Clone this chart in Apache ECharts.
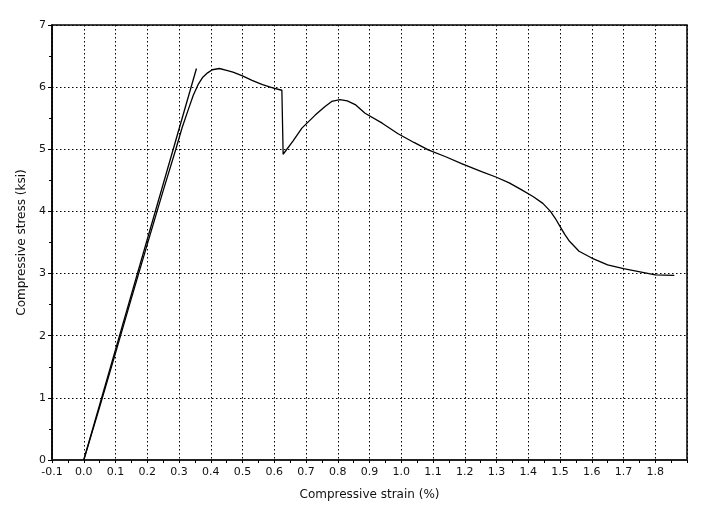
<!DOCTYPE html>
<html>
<head>
<meta charset="utf-8">
<script src="https://cdn.jsdelivr.net/npm/echarts@6/dist/echarts.min.js"></script>
<style>html,body{margin:0;padding:0;background:#fff}#c{width:725px;height:523px}</style>
</head>
<body>
<div id="c"></div>
<script>
const strainMain = [0, 0.05, 0.1, 0.15, 0.2, 0.25, 0.29, 0.31, 0.33, 0.345, 0.36, 0.375, 0.39, 0.405, 0.427, 0.45, 0.47, 0.5, 0.53, 0.563, 0.595, 0.624, 0.628, 0.66, 0.687, 0.729, 0.76, 0.781, 0.807, 0.83, 0.855, 0.886, 0.94, 0.99, 1.04, 1.085, 1.14, 1.19, 1.253, 1.30, 1.34, 1.378, 1.415, 1.446, 1.47, 1.485, 1.50, 1.515, 1.53, 1.56, 1.6, 1.65, 1.70, 1.76, 1.80, 1.86];
const stressMain = [0, 0.85, 1.72, 2.6, 3.47, 4.33, 5.0, 5.35, 5.65, 5.87, 6.04, 6.16, 6.23, 6.28, 6.3, 6.27, 6.24, 6.18, 6.11, 6.04, 5.99, 5.95, 4.92, 5.14, 5.34, 5.55, 5.69, 5.77, 5.8, 5.78, 5.72, 5.58, 5.42, 5.25, 5.11, 4.99, 4.88, 4.77, 4.64, 4.55, 4.46, 4.35, 4.24, 4.13, 4.0, 3.89, 3.76, 3.63, 3.52, 3.36, 3.25, 3.14, 3.08, 3.02, 2.98, 2.97];
const strainLine = [0, 0.355];
const stressLine = [0, 6.3];
const xName = 'Compressive strain (%)';
const yName = 'Compressive stress (ksi)';

const font = 'DejaVu Sans, Verdana, sans-serif';
const chart = echarts.init(document.getElementById('c'));
chart.setOption({
  animation: false,
  grid: {left: 52, right: 38, top: 25, bottom: 63, show: true, borderColor: '#000', borderWidth: 1.5, backgroundColor: 'transparent'},
  xAxis: {
    type: 'value', min: -0.1, max: 1.9, interval: 0.1,
    name: xName, nameLocation: 'middle', nameGap: 29,
    nameTextStyle: {fontFamily: font, fontSize: 12, color: '#111'},
    axisLine: {show: true, onZero: false, lineStyle: {color: '#222', width: 2}},
    axisTick: {show: true, length: 3, inside: false, lineStyle: {color: '#000'}},
    minorTick: {show: true, splitNumber: 2, length: 3, lineStyle: {color: '#000'}},
    axisLabel: {fontFamily: font, fontSize: 11, color: '#111', margin: 7,
      formatter: v => (Math.abs(v - 1.9) < 1e-6 ? '' : v.toFixed(1))},
    splitLine: {show: true, lineStyle: {type: [1.5, 2.5], color: '#000', width: 1}}
  },
  yAxis: {
    type: 'value', min: 0, max: 7, interval: 1,
    name: yName, nameLocation: 'middle', nameGap: 24,
    nameTextStyle: {fontFamily: font, fontSize: 12, color: '#111'},
    axisLine: {show: true, onZero: false, lineStyle: {color: '#000', width: 1.5}},
    axisTick: {show: true, length: 4, lineStyle: {color: '#000'}},
    minorTick: {show: true, splitNumber: 2, length: 3, lineStyle: {color: '#000'}},
    axisLabel: {fontFamily: font, fontSize: 11, color: '#111', margin: 6},
    splitLine: {show: true, lineStyle: {type: [1.5, 2.5], color: '#000', width: 1}}
  },
  series: [
    {type: 'line', data: strainMain.map((x, i) => [x, stressMain[i]]), showSymbol: false, smooth: false,
     lineStyle: {color: '#000', width: 1.3}},
    {type: 'line', data: strainLine.map((x, i) => [x, stressLine[i]]), showSymbol: false,
     lineStyle: {color: '#000', width: 1.3}}
  ]
});
</script>
</body>
</html>
